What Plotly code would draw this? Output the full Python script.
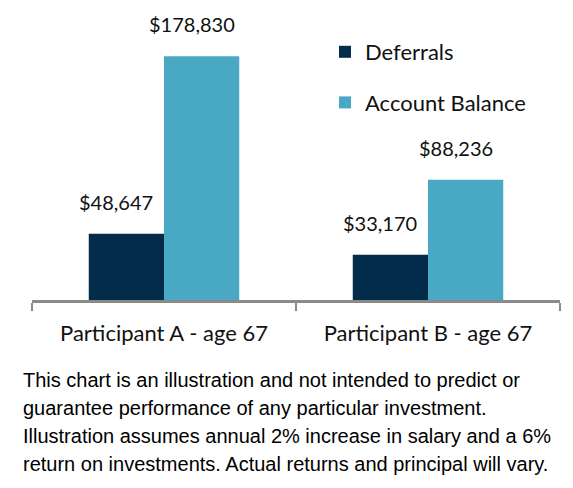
import plotly.graph_objects as go

categories = ["Participant A - age 67", "Participant B - age 67"]
deferrals = [48647, 33170]
balances = [178830, 88236]
series_names = ["Deferrals", "Account Balance"]
footnote_lines = [
    "This chart is an illustration and not intended to predict or",
    "guarantee performance of any particular investment.",
    "Illustration assumes annual 2% increase in salary and a 6%",
    "return on investments. Actual returns and principal will vary.",
]

C_DEF = "#032b4a"
C_BAL = "#49a9c5"
LABEL_FONT = "Lato"
TXT = "#111111"

W, H = 573, 488
ML, MR, MT, MB = 32, 13, 30, 188
PH = H - MT - MB
PW = W - ML - MR

fig = go.Figure()
fig.add_trace(go.Bar(x=categories, y=deferrals, name=series_names[0],
                     marker=dict(color=C_DEF, line=dict(width=0)),
                     legendgroup="d", hoverinfo="skip"))
fig.add_trace(go.Bar(x=categories, y=balances, name=series_names[1],
                     marker=dict(color=C_BAL, line=dict(width=0)),
                     legendgroup="b", hoverinfo="skip"))

annotations = []
for cat, v in zip(categories, deferrals):
    annotations.append(dict(x=cat, y=v, xref="x", yref="y", text=f"${v:,}",
                            showarrow=False, xshift=-48, yshift=32, yanchor="middle",
                            font=dict(family=LABEL_FONT, size=20, color=TXT)))
for cat, v in zip(categories, balances):
    annotations.append(dict(x=cat, y=v, xref="x", yref="y", text=f"${v:,}",
                            showarrow=False, xshift=28, yshift=32, yanchor="middle",
                            font=dict(family=LABEL_FONT, size=20, color=TXT)))

line_centers = [380, 408, 436, 464]
for txt, yc in zip(footnote_lines, line_centers):
    annotations.append(dict(x=(21 - ML) / PW, y=(H - MB - yc) / PH,
                            xref="paper", yref="paper", text=txt, showarrow=False,
                            xanchor="left", yanchor="middle",
                            font=dict(family="Liberation Sans, Arial, sans-serif",
                                      size=20, color="#000000")))

fig.update_layout(
    width=W, height=H,
    margin=dict(l=ML, r=MR, t=MT, b=MB, autoexpand=False),
    paper_bgcolor="white", plot_bgcolor="white",
    barmode="group", bargap=0.43, bargroupgap=0,
    showlegend=True,
    legend=dict(x=(325 - ML) / PW, y=(H - MB - 31) / PH, xref="paper", yref="paper",
                xanchor="left", yanchor="top", tracegroupgap=19,
                font=dict(family=LABEL_FONT, size=22, color=TXT),
                bgcolor="rgba(0,0,0,0)"),
    annotations=annotations,
    xaxis=dict(showline=True, linecolor="#8a8a8a", linewidth=3,
               ticks="outside", tickson="boundaries", ticklen=8, tickwidth=2,
               tickcolor="#8a8a8a", showgrid=False, zeroline=False,
               ticklabelstandoff=12,
               tickfont=dict(family=LABEL_FONT, size=22, color=TXT)),
    yaxis=dict(range=[0, 198000], visible=False, showgrid=False, zeroline=False),
)

fig.write_html("out.html")
